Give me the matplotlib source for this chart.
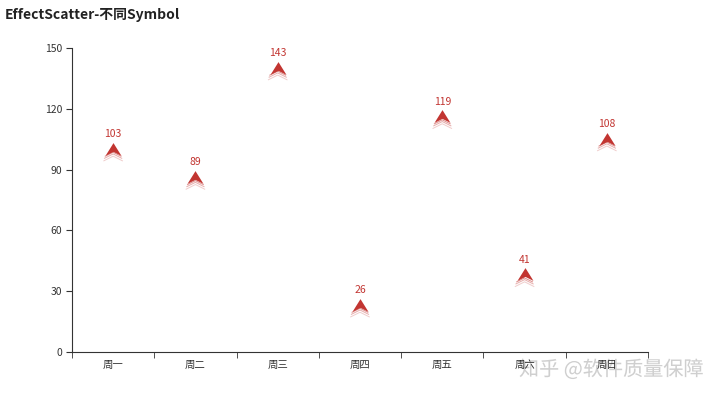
import matplotlib.pyplot as plt
import matplotlib.transforms as mtransforms
import matplotlib.patheffects as pe
from matplotlib.path import Path

plt.rcParams['font.family'] = ['Noto Sans CJK SC', 'DejaVu Sans']

days = ['周一', '周二', '周三', '周四', '周五', '周六', '周日']
values = [103, 89, 143, 26, 119, 41, 108]

red = '#c23531'

# echarts-like "arrow" symbol and its ripple chevrons
arrow = Path([(0, 0.4), (0.5, -0.4), (0, -0.15), (-0.5, -0.4), (0, 0.4)],
             [Path.MOVETO, Path.LINETO, Path.LINETO, Path.LINETO, Path.CLOSEPOLY])
ripple = Path([(-0.5, -0.4), (0, -0.15), (0.5, -0.4)],
              [Path.MOVETO, Path.LINETO, Path.LINETO])


def main():
    fig = plt.figure(figsize=(7.2, 4), dpi=100)
    ax = fig.add_axes([0.1, 0.12, 0.8, 0.76])
    ax.patch.set_alpha(0)

    xs = list(range(len(days)))

    # ripples under the symbol
    for dy, size, alpha in [(-10, 14, 0.25), (-8, 13, 0.4), (-6.5, 12, 0.55)]:
        tr = mtransforms.offset_copy(ax.transData, fig=fig, x=0, y=dy, units='dots')
        ax.scatter(xs, values, s=size ** 2, marker=ripple, facecolors='none',
                   edgecolors=red, linewidths=0.7, alpha=alpha,
                   transform=tr, zorder=2)
    tr = mtransforms.offset_copy(ax.transData, fig=fig, x=0, y=-5.5, units='dots')
    ax.scatter(xs, values, s=11.5 ** 2, marker=arrow, color=red, linewidths=0,
               transform=tr, zorder=3)

    for x, v in zip(xs, values):
        ax.annotate(str(v), (x, v), xytext=(0, 3), textcoords='offset points',
                    ha='center', va='bottom', fontsize=7.5, color=red)

    ax.set_xlim(-0.5, len(days) - 0.5)
    ax.set_ylim(0, 150)
    ax.set_yticks([0, 30, 60, 90, 120, 150])
    ax.set_xticks(xs)
    ax.set_xticklabels(days)
    ax.set_xticks([i - 0.5 for i in range(len(days) + 1)], minor=True)
    ax.tick_params(axis='x', which='major', length=0, pad=6)
    ax.tick_params(axis='x', which='minor', length=4, color='#333333')
    ax.tick_params(axis='y', length=4, color='#333333', pad=3)
    ax.tick_params(labelsize=7.5, labelcolor='#333333')

    for side in ['top', 'right']:
        ax.spines[side].set_visible(False)
    for side in ['left', 'bottom']:
        ax.spines[side].set_color('#333333')
        ax.spines[side].set_linewidth(0.8)

    fig.text(0.007, 0.962, 'EffectScatter-不同Symbol', fontsize=10,
             fontweight='bold', color='#222222', ha='left', va='center')

    # watermark (behind the axes)
    fig.text(0.977, 0.075, '知乎 @软件质量保障', fontsize=14.5, color='#cfcfcf',
             ha='right', va='center', zorder=-1,
             path_effects=[pe.withStroke(linewidth=3, foreground='white', alpha=0.8)])

    fig.savefig('out.png', dpi=100, facecolor='white')


if __name__ == "__main__":
    main()
